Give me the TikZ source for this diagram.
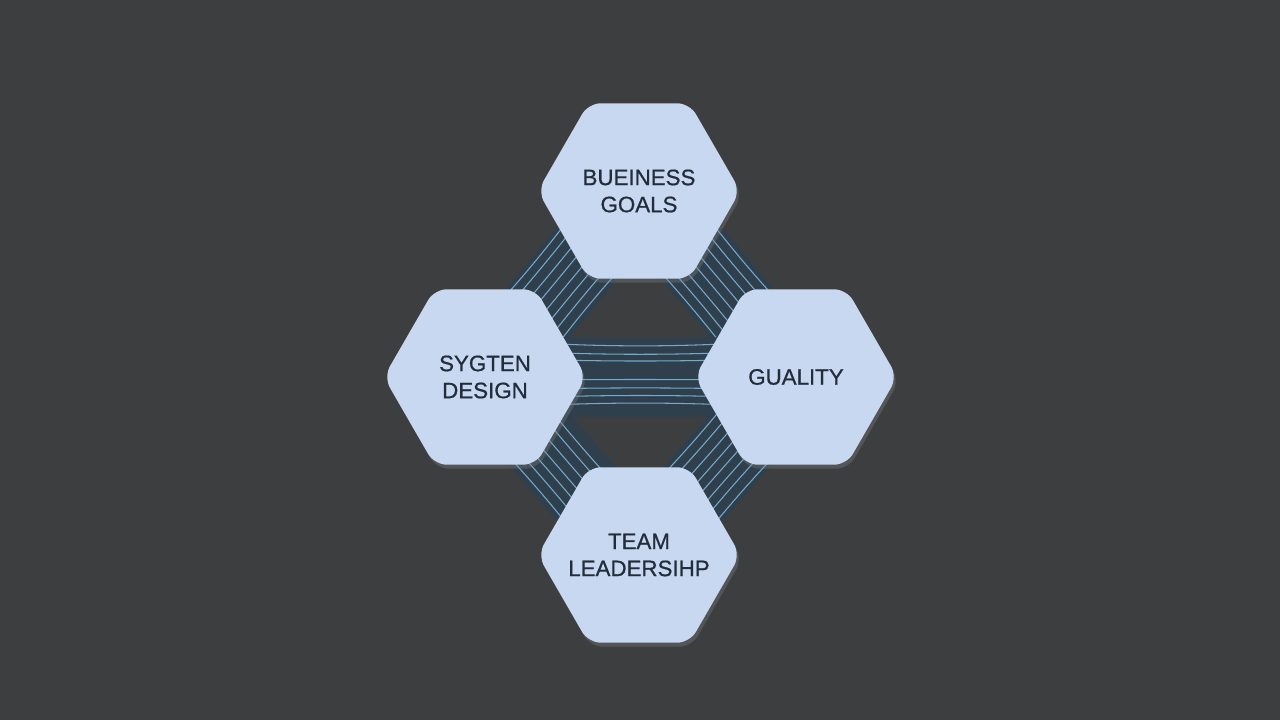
\documentclass[tikz,border=0pt]{standalone}
\usepackage{fontspec}
\setmainfont{Liberation Sans}
\newfontfamily\hexfont[FakeBold=0.7]{Liberation Sans}
\usetikzlibrary{shapes.geometric,shadows,calc,backgrounds}

\definecolor{bgcol}{HTML}{3D3E40}
\definecolor{hexfill}{HTML}{C7D8F0}
\definecolor{hextext}{HTML}{222C3A}
\definecolor{wirecol}{HTML}{74AACE}
\definecolor{bandcol}{HTML}{2C4050}

\tikzset{
  hexa/.style={regular polygon, regular polygon sides=6,
    minimum size=4.05cm, inner sep=-12pt, fill=hexfill, rounded corners=7pt,
    text=hextext, align=center, font=\hexfont\fontsize{12.7}{15.4}\selectfont,
    drop shadow={opacity=0.35,shadow xshift=0.04cm,shadow yshift=-0.08cm}},
  wire/.style={draw=wirecol, line width=0.6pt},
  band/.style={draw=bandcol, line width=1.6cm, opacity=0.8}
}

\begin{document}
\begin{tikzpicture}

\useasboundingbox (0,0) rectangle (25.6,14.4);

% hexagons
\node[hexa] (biz)  at (12.78,10.58) {BUEINESS\\GOALS};
\node[hexa] (sys)  at (9.70,6.86)   {SYGTEN\\DESIGN};
\node[hexa] (qual) at (15.92,6.86)  {GUALITY};
\node[hexa] (team) at (12.78,3.30)  {TEAM\\LEADERSIHP};

% wire bundles behind the hexagons
\begin{scope}[on background layer]
\fill[bgcol] (0,0) rectangle (25.6,14.4);
\foreach \a/\b/\offs in {sys/biz/{-0.78,-0.55,-0.32,-0.1,0.14,0.36,0.6,0.8},
                         biz/qual/{-0.8,-0.58,-0.36,-0.12,0.1,0.34,0.56,0.78},
                         sys/qual/{0.74,0.54,0.38,-0.06,-0.26,-0.44,-0.62},
                         sys/team/{-0.76,-0.52,-0.3,-0.08,0.16,0.4,0.62},
                         team/qual/{-0.8,-0.56,-0.34,-0.12,0.1,0.32,0.56,0.78}}{
  \draw[band] (\a.center) -- (\b.center);
  \foreach \d [evaluate=\d as \bnd using 5*\d] in \offs
    \draw[wire] ($(\a.center)!\d cm!90:(\b.center)$)
      to[bend right=\bnd] ($(\b.center)!\d cm!-90:(\a.center)$);
}
\end{scope}

\end{tikzpicture}
\end{document}
